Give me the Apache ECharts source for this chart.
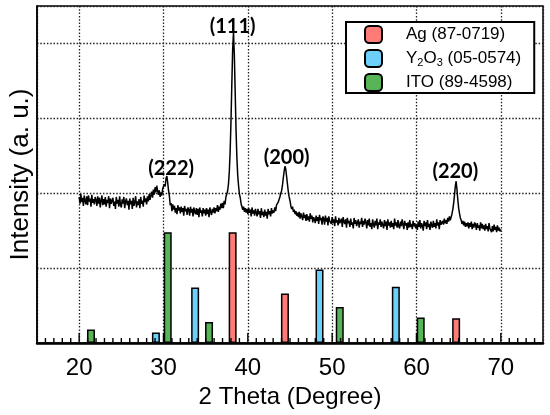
<!DOCTYPE html>
<html>
<head>
<meta charset="utf-8">
<script src="https://cdn.jsdelivr.net/npm/echarts@6/dist/echarts.min.js"></script>
<style>
html,body{margin:0;padding:0;background:#fff;}
#chart{width:550px;height:415px;}
</style>
</head>
<body>
<div id="chart"></div>
<script>
// ---- data ----
const thetaStart = 20.0;   // degrees, first sample of the measured pattern
const thetaStep = 0.1;     // degrees between samples
// measured XRD intensity (a. u.), one row per degree, 20.0 .. 70.0
const intensity = [
  1.95,1.86,1.99,1.88,1.94,1.83,1.97,1.90,1.85,1.96,
  1.84,1.97,1.89,1.93,1.82,1.98,1.87,1.92,1.85,1.95,
  1.91,1.83,1.96,1.86,1.94,1.81,1.90,1.97,1.84,1.92,
  1.85,1.95,1.82,1.91,1.87,1.96,1.80,1.93,1.86,1.90,
  1.94,1.83,1.89,1.79,1.95,1.86,1.91,1.82,1.96,1.85,
  1.81,1.92,1.86,1.95,1.80,1.89,1.93,1.84,1.90,1.78,
  1.93,1.85,1.90,1.79,1.94,1.83,1.88,1.96,1.81,1.89,
  1.84,1.92,1.80,1.95,1.86,1.90,1.82,1.97,1.88,1.93,
  1.85,1.96,1.89,1.99,1.91,1.97,2.02,1.94,2.05,1.98,
  2.08,2.01,2.10,2.03,1.98,2.04,1.95,2.01,1.97,2.06,
  2.04,2.12,2.09,2.20,2.23,2.14,2.03,1.96,1.84,1.87,
  1.76,1.85,1.78,1.83,1.74,1.80,1.72,1.84,1.77,1.81,
  1.73,1.82,1.75,1.80,1.70,1.83,1.76,1.79,1.71,1.81,
  1.78,1.70,1.82,1.74,1.79,1.69,1.81,1.75,1.72,1.80,
  1.71,1.79,1.68,1.81,1.74,1.77,1.69,1.80,1.73,1.78,
  1.70,1.80,1.72,1.78,1.68,1.81,1.75,1.71,1.79,1.74,
  1.81,1.73,1.80,1.76,1.84,1.75,1.82,1.78,1.86,1.80,
  1.87,1.80,1.90,1.85,1.95,1.99,2.03,2.12,2.28,2.55,
  2.95,3.45,3.92,4.15,3.85,3.35,2.85,2.48,2.24,2.10,
  1.99,1.94,1.86,1.84,1.78,1.82,1.75,1.80,1.74,1.79,
  1.72,1.80,1.74,1.78,1.69,1.81,1.73,1.77,1.70,1.79,
  1.77,1.69,1.79,1.72,1.76,1.67,1.80,1.71,1.75,1.68,
  1.78,1.70,1.75,1.66,1.79,1.72,1.76,1.69,1.80,1.73,
  1.77,1.74,1.81,1.76,1.84,1.85,1.88,1.86,1.95,2.00,
  2.03,2.10,2.20,2.29,2.36,2.32,2.22,2.12,2.02,1.95,
  1.90,1.83,1.79,1.82,1.75,1.78,1.72,1.76,1.70,1.74,
  1.68,1.75,1.66,1.73,1.69,1.64,1.74,1.67,1.71,1.63,
  1.72,1.64,1.69,1.62,1.73,1.66,1.70,1.61,1.68,1.65,
  1.60,1.70,1.63,1.68,1.59,1.71,1.64,1.67,1.58,1.69,
  1.66,1.58,1.70,1.62,1.67,1.57,1.69,1.63,1.65,1.59,
  1.68,1.60,1.65,1.56,1.69,1.61,1.64,1.57,1.67,1.60,
  1.58,1.66,1.55,1.68,1.62,1.59,1.65,1.54,1.67,1.60,
  1.63,1.55,1.66,1.58,1.61,1.53,1.67,1.59,1.64,1.56,
  1.57,1.65,1.54,1.62,1.59,1.67,1.55,1.63,1.58,1.66,
  1.61,1.53,1.64,1.57,1.66,1.55,1.60,1.52,1.65,1.58,
  1.54,1.63,1.57,1.66,1.52,1.61,1.58,1.65,1.55,1.62,
  1.60,1.53,1.64,1.56,1.62,1.51,1.65,1.57,1.61,1.54,
  1.63,1.55,1.60,1.52,1.66,1.57,1.61,1.54,1.64,1.56,
  1.53,1.62,1.56,1.65,1.58,1.52,1.63,1.57,1.60,1.51,
  1.61,1.54,1.64,1.55,1.59,1.52,1.63,1.56,1.60,1.53,
  1.58,1.51,1.62,1.55,1.64,1.53,1.60,1.57,1.50,1.63,
  1.56,1.61,1.52,1.64,1.55,1.59,1.51,1.62,1.57,1.54,
  1.63,1.55,1.60,1.53,1.65,1.57,1.61,1.52,1.64,1.58,
  1.56,1.63,1.58,1.66,1.60,1.64,1.59,1.67,1.62,1.69,
  1.64,1.68,1.72,1.78,1.86,1.97,2.09,2.16,2.05,1.91,
  1.80,1.73,1.67,1.64,1.59,1.63,1.57,1.62,1.55,1.60,
  1.56,1.61,1.53,1.60,1.55,1.62,1.52,1.59,1.54,1.61,
  1.58,1.51,1.60,1.54,1.57,1.50,1.61,1.53,1.59,1.52,
  1.57,1.50,1.59,1.52,1.56,1.49,1.60,1.53,1.55,1.48,
  1.56,1.49,1.58,1.51,1.55,1.48,1.57,1.50,1.54,1.49,
  1.52
];

// reference patterns: [2theta, relative height]
const agRef   = [[38.2, 1.48], [44.4, 0.66], [64.7, 0.33]];
const y2o3Ref = [[29.1, 0.14], [33.75, 0.74], [48.5, 0.98], [57.55, 0.75]];
const itoRef  = [[21.4, 0.18], [30.5, 1.48], [35.4, 0.28], [50.9, 0.48], [60.5, 0.34]];

const seriesNames = ['Ag (87-0719)', 'Y2O3 (05-0574)', 'ITO (89-4598)'];
const seriesColors = ['#FF7B78', '#6DD0FA', '#57B557'];

// peak annotations: [label, 2theta, height]
const peakLabels = [
  ['(222)', 30.9, 2.33],
  ['(111)', 38.2, 4.22],
  ['(200)', 44.6, 2.48],
  ['(220)', 64.6, 2.29]
];

// x-axis tick labels and tick-mark positions (degrees)
const xTicks = [20, 30, 40, 50, 60, 70];
const xMinorTicks = [16,17,18,19,21,22,23,24,25,26,27,28,29,31,32,33,34,35,36,37,38,39,
  41,42,43,44,45,46,47,48,49,51,52,53,54,55,56,57,58,59,61,62,63,64,65,66,67,68,69,
  71,72,73,74];

// ---- chart ----
const pattern = intensity.map((v, i) => [+(thetaStart + i * thetaStep).toFixed(1), v]);

const tickMarks = xTicks.map(v => [v, 0, 10]).concat(xMinorTicks.map(v => [v, 0, 5]));

const chart = echarts.init(document.getElementById('chart'), null, {renderer: 'canvas'});

const barSeries = [agRef, y2o3Ref, itoRef].map((d, i) => ({
  name: seriesNames[i],
  type: 'bar',
  data: d,
  barWidth: 8,
  barGap: '-100%',
  itemStyle: {color: seriesColors[i], borderColor: '#000', borderWidth: 1.5},
  z: 3
}));

chart.setOption({
  animation: false,
  backgroundColor: '#fff',
  textStyle: {fontFamily: 'Liberation Sans'},
  grid: {
    left: 35, right: 7, top: 6, bottom: 72,
    show: true, borderColor: '#000', borderWidth: 1.5
  },
  legend: {
    data: seriesNames,
    orient: 'vertical',
    left: 346, top: 22,
    itemWidth: 17, itemHeight: 17, itemGap: 5,
    icon: 'roundRect',
    padding: [3, 13, 1, 18],
    borderColor: '#000', borderWidth: 2,
    backgroundColor: '#fff',
    formatter: function (name) {
      if (name.indexOf('Y2O3') === 0) {
        return '{n|Y}{s|2}{n|O}{s|3}{n| (05-0574)}';
      }
      return '{n|' + name + '}';
    },
    textStyle: {
      padding: [0, 0, 0, 19],
      rich: {
        n: {fontSize: 17, fontFamily: 'Liberation Sans', color: '#000'},
        s: {fontSize: 11, fontFamily: 'Liberation Sans', color: '#000', verticalAlign: 'bottom', padding: [8, 0, 0, 0]}
      }
    }
  },
  xAxis: {
    type: 'value', min: 15, max: 75, splitNumber: 6,
    name: '2 Theta (Degree)', nameLocation: 'middle', nameGap: 38,
    nameTextStyle: {fontSize: 24, color: '#000', fontFamily: 'Liberation Sans'},
    axisLine: {show: true, onZero: false, lineStyle: {color: '#000', width: 2.5}},
    axisTick: {show: false},
    axisLabel: {
      fontSize: 24, color: '#000', margin: 13, fontFamily: 'Liberation Sans',
      formatter: v => (xTicks.indexOf(v) >= 0 ? String(v) : '')
    },
    splitLine: {show: true, lineStyle: {color: '#222', width: 1.3, type: [1.5, 1.8]}}
  },
  yAxis: {
    type: 'value', min: 0, max: 4.5, interval: 1,
    name: 'Intensity (a. u.)', nameLocation: 'middle', nameGap: 3,
    nameTextStyle: {fontSize: 26, color: '#000', fontFamily: 'Liberation Sans'},
    axisLine: {show: true, onZero: false, lineStyle: {color: '#000', width: 1.5}},
    axisTick: {show: false},
    axisLabel: {show: false},
    splitLine: {show: true, lineStyle: {color: '#222', width: 1.3, type: [1.5, 1.8]}}
  },
  series: [
    {
      name: 'pattern',
      type: 'line',
      data: pattern,
      showSymbol: false,
      symbol: 'none',
      sampling: null,
      lineStyle: {color: '#000', width: 1.5},
      z: 4,
      markPoint: {
        symbol: 'circle', symbolSize: 0,
        label: {
          show: true, position: 'inside', formatter: '{b}',
          fontSize: 20, fontWeight: 'bold', fontFamily: 'Lato', color: '#000'
        },
        data: peakLabels.map(p => ({name: p[0], coord: [p[1], p[2]]}))
      }
    },
    {
      name: 'ticks',
      type: 'custom',
      silent: true,
      z: 5,
      data: tickMarks,
      encode: {x: 0, y: 1},
      renderItem: function (params, api) {
        const p = api.coord([api.value(0), api.value(1)]);
        const len = api.value(2);
        return {
          type: 'line',
          shape: {x1: p[0], y1: p[1], x2: p[0], y2: p[1] - len},
          style: {stroke: '#000', lineWidth: 1.4}
        };
      }
    }
  ].concat(barSeries)
});
</script>
</body>
</html>
